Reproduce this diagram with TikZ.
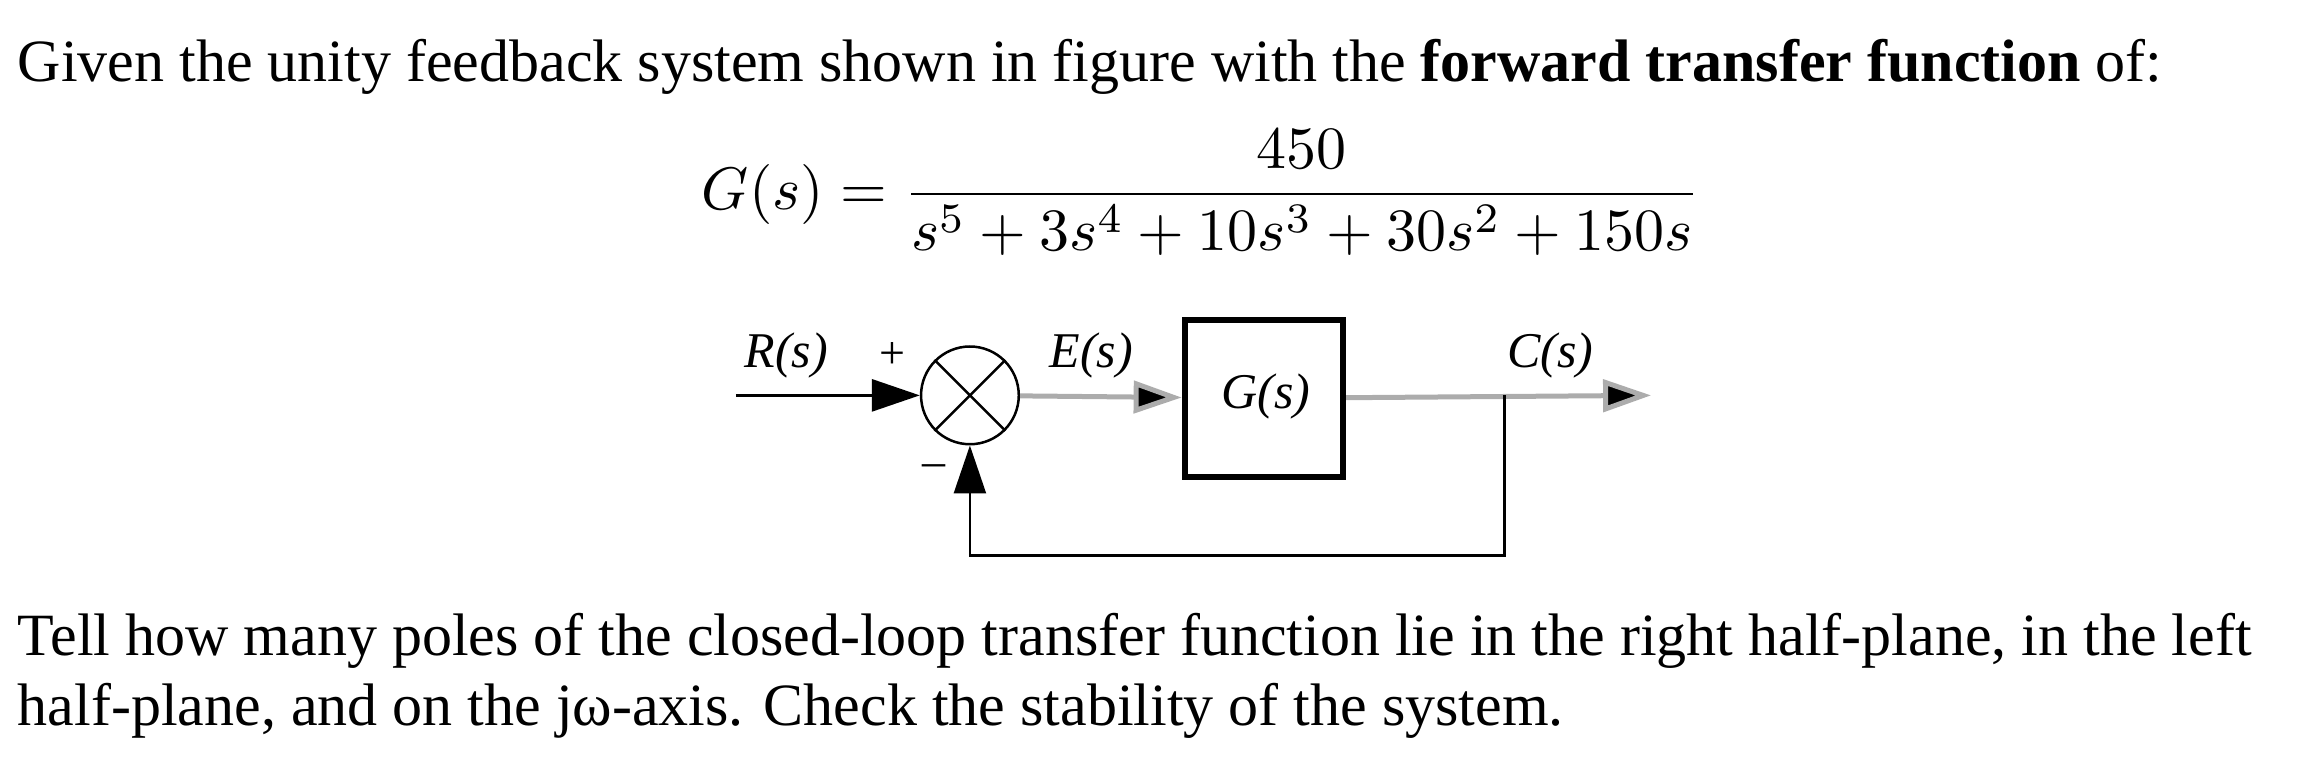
\documentclass[tikz,border=0pt]{standalone}
\usepackage{fontspec}
\usepackage{graphicx}
\setmainfont{Liberation Serif}
\usetikzlibrary{arrows.meta}
\begin{document}
\begin{tikzpicture}[x=1.4808pt,y=-1.4808pt,
  lbl/.style={inner sep=0pt,font=\fontsize{50}{56}\selectfont\itshape},
  tip/.style={-{Triangle[length=48pt,width=32pt,fill=black]}},
  sig/.style={line width=5pt,tip},
  body/.style={inner sep=0pt,anchor=base west,font=\fontsize{60}{66}\selectfont}]
\useasboundingbox (0,0) rectangle (1560,528.8);
\node[body] (t1) at (12,55) {Given the unity feedback system shown in figure with the \textbf{forward transfer function} of:};
\node[inner sep=0pt] (eq) at (811,130) {\scalebox{6.0}{$\displaystyle G(s)=\frac{450}{s^5+3s^4+10s^3+30s^2+150s}$}};
% diagram
\node[draw,circle,minimum size=66pt*1.4808,line width=2.5pt,inner sep=0pt] (sum) at (655,267) {};
\draw[line width=2.5pt] (sum.45)--(sum.225) (sum.135)--(sum.-45);
\node[draw,line width=6pt,minimum width=107*1.4808pt,minimum height=106*1.4808pt,inner sep=0pt] (G) at (853.5,269) {};
\node[lbl] (Gl) at (855,268) {G(s)};
\coordinate (in) at (497,267);
\coordinate (out) at (1115,267);
\coordinate (br) at (1016,267);
\coordinate (lc) at (1016,375);
\coordinate (lb) at (655,375);
\draw[sig,draw=black,line width=3pt] (in) -- (sum);
\draw[sig,draw=gray!65] (sum) -- (G);
\draw[sig,draw=gray!65] (G) -- (out);
\draw[line width=2.5pt,tip] (br) -- (lc) -- (lb) -- (sum);
\node[lbl] (R) at (531,240) {R(s)};
\node[lbl,font=\fontsize{46}{50}\selectfont] (p) at (603,240) {+};
\node[lbl] (E) at (737,240) {E(s)};
\node[lbl] (C) at (1047,240) {C(s)};
\node[lbl,font=\fontsize{46}{50}\selectfont] (m) at (631,318) {\textendash};
\node[body] (t2) at (12,443) {Tell how many poles of the closed-loop transfer function lie in the right half-plane, in the left};
\node[body] (t3) at (12,490) {half-plane, and on the jω-axis. Check the stability of the system.};
\end{tikzpicture}
\end{document}
